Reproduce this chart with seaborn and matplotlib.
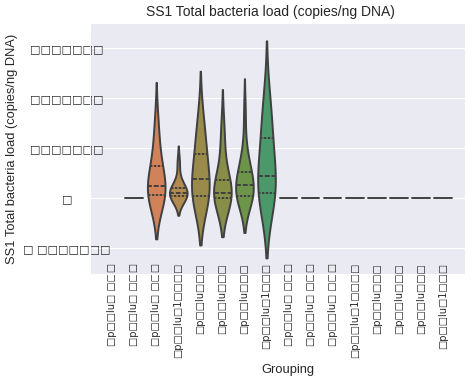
import pandas as pd
import matplotlib
matplotlib.use("Agg")
import matplotlib.pyplot as plt
import seaborn as sns

# categories on the x axis (first one has no samples)
groups = ["G0", "G1", "G2", "G3", "G4", "G5", "G6", "G7",
          "G8", "G9", "G10", "G11", "G12", "G13", "G14", "G15"]

# tick labels as they show up in the reference (missing glyphs)
x_tick_labels = ["□p□□lu□ □□□", "□p□□lu□ □□□", "□p□□lu□ □□□", "□p□□lu□1□□□□",
                 "□p□□lu□□□", "□p□□lu□□□", "□p□□lu□□□", "□p□□lu□1□□□",
                 "□p□□lu□ □□□", "□p□□lu□ □□□", "□p□□lu□ □□□", "□p□□lu□1□□□□",
                 "□p□□lu□□□", "□p□□lu□□□", "□p□□lu□□□", "□p□□lu□1□□□"]
y_ticks = [-1, 0, 1, 2, 3]
y_tick_labels = ["□ □□□□□□□", "□", "□□□□□□□", "□□□□□□□", "□□□□□□□"]

# total bacteria load per sample, millions of copies/ng DNA
g0 = []
g1 = [0, 0, 0, 0, 0, 0]
g2 = [0, 0.02, 0.05, 0.10, 0.18, 0.30, 0.45, 0.70, 1.00, 1.50]
g3 = [0, 0.01, 0.03, 0.05, 0.09, 0.12, 0.17, 0.21, 0.30, 0.70]
g4 = [0, 0.01, 0.03, 0.08, 0.25, 0.50, 0.75, 0.92, 1.25, 1.60]
g5 = [0, 0, 0, 0.02, 0.07, 0.15, 0.28, 0.40, 0.90, 1.40]
g6 = [0, 0, 0.01, 0.02, 0.05, 0.08, 0.12, 0.20, 0.32, 0.38, 0.45, 0.50,
      0.60, 0.75, 1.00, 1.70]
g7 = [0, 0.04, 0.11, 0.25, 0.45, 0.80, 1.20, 1.55, 1.95]
g8 = [0, 0, 0, 0, 0, 0]
g9 = [0, 0, 0, 0, 0, 0]
g10 = [0, 0, 0, 0, 0, 0]
g11 = [0, 0, 0, 0, 0, 0]
g12 = [0, 0, 0, 0, 0, 0]
g13 = [0, 0, 0, 0, 0, 0]
g14 = [0, 0, 0, 0, 0, 0]
g15 = [0, 0, 0, 0, 0, 0]

series = [g0, g1, g2, g3, g4, g5, g6, g7, g8, g9, g10, g11, g12, g13, g14, g15]
rows = [(g, v) for g, vals in zip(groups, series) for v in vals]
df = pd.DataFrame(rows, columns=["Grouping", "load"])

sns.set_style("darkgrid")
plt.rcParams["font.family"] = ["Liberation Sans", "DejaVu Sans"]

fig = plt.figure(figsize=(4.74, 3.86), dpi=100)
ax = fig.add_axes([0.19, 0.29, 0.791, 0.65])

# husl colours for the groups that have samples
pal = dict(zip(groups[1:], sns.husl_palette(16)))
sns.violinplot(data=df, x="Grouping", y="load", hue="Grouping",
               order=groups, hue_order=groups[1:], palette=pal,
               saturation=0.62, inner="quart", density_norm="width",
               bw_adjust=1.3, linewidth=1.4, legend=False, ax=ax)

ax.set_xlim(-1, 16)
ax.set_ylim(-1.52, 3.5)
ax.set_yticks(y_ticks)
ax.set_yticklabels(y_tick_labels, ha="center", fontsize=8, family="DejaVu Sans")
ax.set_xticks(range(len(groups)))
ax.set_xticklabels(x_tick_labels, rotation=90, fontsize=7, family="DejaVu Sans")
ax.tick_params(axis="y", pad=13)
ax.tick_params(axis="x", pad=-11.5)

ax.set_title("SS1 Total bacteria load (copies/ng DNA)", fontsize=10, pad=5, x=0.48)
ax.set_ylabel("SS1 Total bacteria load (copies/ng DNA)", fontsize=9.3)
ax.set_xlabel("Grouping", fontsize=9.3, x=0.527)

fig.savefig("out.png", dpi=100)
